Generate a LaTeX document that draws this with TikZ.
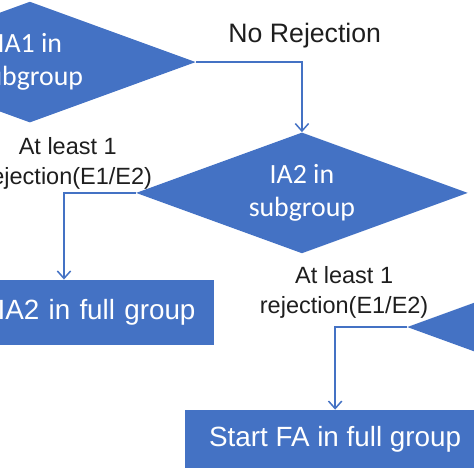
\documentclass[tikz,border=0pt]{standalone}
\usepackage{fontspec}
\setmainfont{Liberation Sans}
\newfontfamily\calibrifont{Carlito}
\usepackage{xcolor}
\usetikzlibrary{shapes.geometric, arrows.meta}

\definecolor{iablue}{HTML}{4472C4}
\definecolor{labelgray}{HTML}{1E1E1E}

\tikzset{
    decision/.style={diamond, fill=iablue, text=white, aspect=2.75,
        minimum width=7cm, minimum height=2.55cm, inner sep=0pt, align=center,
        font=\calibrifont\fontsize{16.7}{19.8}\selectfont},
    actionbox/.style={rectangle, fill=iablue, text=white, minimum width=6.33cm,
        inner sep=0pt, font=\fontsize{16.7}{20}\selectfont},
    outcome/.style={text=labelgray, align=center, inner sep=0pt,
        font=\fontsize{14.1}{18}\selectfont},
    link/.style={draw=iablue, line width=0.9pt, -{Straight Barb[length=4.5pt,width=8pt]}}
}

\begin{document}
\begin{tikzpicture}
    \clip (0,0) rectangle (10,10);

    % decisions
    \node[decision] (ia1) at (0.63,8.69) {IA1 in\\subgroup};
    \node[decision] (ia2) at (6.37,5.93) {IA2 in\\subgroup};
    \node[decision] (ia3) at (12.09,3.10) {};

    % actions
    \node[actionbox, minimum height=1.37cm, text width=5.55cm, align=right,
        inner xsep=0.39cm] (startia2) at (1.35,3.41) {IA2 in full group};
    \node[actionbox, minimum height=1.22cm] (startfa) at (7.07,0.74) {Start FA in full group};

    % outcome labels
    \node[text=labelgray, inner sep=0pt, font=\fontsize{16}{19}\selectfont] (norej) at (6.43,9.24) {No Rejection};
    \node[outcome] (rej1) at (1.43,6.56) {At least 1\\rejection(E1/E2)};
    \node[outcome] (rej2) at (7.26,3.84) {At least 1\\rejection(E1/E2)};

    % connectors
    \draw[link] (ia1.east) -| (ia2.north);
    \draw[link] (ia2.west) -| (startia2.north);
    \draw[link] (ia3.west) -| (startfa.north);
\end{tikzpicture}
\end{document}
